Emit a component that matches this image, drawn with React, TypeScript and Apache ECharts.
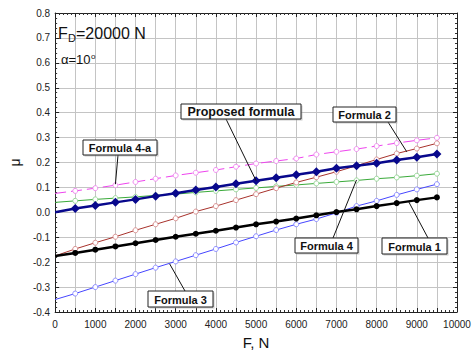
import React, { useEffect, useRef } from "react";
import * as echarts from "echarts";

const forceN = [0, 500, 1000, 1500, 2000, 2500, 3000, 3500, 4000, 4500, 5000, 5500, 6000, 6500, 7000, 7500, 8000, 8500, 9000, 9500];
const formula1 = [-0.175, -0.163, -0.150, -0.137, -0.124, -0.111, -0.098, -0.086, -0.074, -0.061, -0.048, -0.037, -0.025, -0.012, 0.001, 0.012, 0.025, 0.037, 0.049, 0.060];
const formula2 = [-0.175, -0.147, -0.122, -0.098, -0.072, -0.048, -0.024, 0.003, 0.025, 0.049, 0.073, 0.097, 0.120, 0.141, 0.163, 0.187, 0.212, 0.236, 0.256, 0.277];
const formula3 = [-0.350, -0.326, -0.300, -0.274, -0.248, -0.222, -0.197, -0.172, -0.147, -0.121, -0.096, -0.071, -0.048, -0.027, -0.002, 0.025, 0.046, 0.070, 0.092, 0.113];
const formula4 = [0.040, 0.046, 0.052, 0.057, 0.062, 0.068, 0.073, 0.080, 0.086, 0.092, 0.098, 0.104, 0.110, 0.116, 0.122, 0.128, 0.135, 0.140, 0.147, 0.155];
const formula4a = [0.076, 0.086, 0.097, 0.109, 0.122, 0.135, 0.148, 0.159, 0.170, 0.183, 0.196, 0.206, 0.216, 0.232, 0.243, 0.254, 0.266, 0.278, 0.289, 0.299];
const proposed = [0.000, 0.015, 0.027, 0.040, 0.052, 0.065, 0.077, 0.090, 0.102, 0.115, 0.127, 0.139, 0.151, 0.163, 0.177, 0.187, 0.197, 0.210, 0.221, 0.234];

// annotation labels: text, box [x, y, w, h] in px, leader start [x, y] in px, target [F, mu] in data
const annotations = [
  { text: "Formula 4-a", box: [83, 140, 74, 15], start: [118, 155], target: [1500, 0.113], size: 11 },
  { text: "Proposed formula", box: [181, 104, 120, 15], start: [226, 119], target: [5000, 0.127], size: 12.5 },
  { text: "Formula 2", box: [333, 107, 63, 15], start: [388, 122], target: [8750, 0.243], size: 11 },
  { text: "Formula 4", box: [295, 238, 63, 15], start: [333, 238], target: [7500, 0.13], size: 11 },
  { text: "Formula 1", box: [382, 238, 65, 16], start: [428, 238], target: [8800, 0.042], size: 11 },
  { text: "Formula 3", box: [148, 291, 65, 16], start: [185, 291], target: [2850, -0.207], size: 11 },
];

const FONT = "Liberation Sans, Arial, Helvetica, sans-serif";

function pairs(ys: number[]) {
  return forceN.map((x, i) => [x, ys[i]]);
}

const symFn = (name: string) => (v: number[]) => (v[0] === 0 ? "none" : name);

function openSeries(name: string, data: number[], line: string, marker: string, dashed = false) {
  return {
    name,
    type: "line",
    data: pairs(data),
    symbol: symFn("circle"),
    symbolSize: 5,
    lineStyle: { color: line, width: 1, type: dashed ? [11, 5] : "solid" },
    itemStyle: { color: "#ffffff", borderColor: marker, borderWidth: 1 },
    z: 3,
  };
}

export default function App() {
  const ref = useRef<HTMLDivElement>(null);
  useEffect(() => {
    if (!ref.current) return;
    const chart = echarts.init(ref.current, undefined, { renderer: "svg" });
    const axisCommon = {
      axisLine: { show: true, onZero: false, lineStyle: { color: "#222", width: 1 } },
      axisTick: { show: true, inside: true, length: 4, lineStyle: { color: "#222" } },
      minorTick: { show: true, splitNumber: 5, length: 2, lineStyle: { color: "#333" } },
    };
    const option: any = {
      animation: false,
      backgroundColor: "#ffffff",
      grid: { left: 53, right: 17, top: 13, bottom: 43, show: false },
      xAxis: [
        {
          type: "value",
          min: 0,
          max: 10000,
          interval: 500,
          ...axisCommon,
          axisLabel: {
            color: "#222",
            fontSize: 10,
            fontFamily: FONT,
            margin: 7,
            formatter: (v: number) => (v % 1000 === 0 ? String(v) : ""),
          },
          splitLine: { show: true, lineStyle: { color: "#c4c4c4", width: 1 } },
          name: "F, N",
          nameLocation: "middle",
          nameGap: 23,
          nameTextStyle: { fontSize: 15, color: "#111", fontFamily: FONT },
        },
        {
          type: "value",
          position: "top",
          min: 0,
          max: 10000,
          interval: 500,
          ...axisCommon,
          axisLabel: { show: false },
          splitLine: { show: false },
        },
      ],
      yAxis: [
        {
          type: "value",
          min: -0.4,
          max: 0.8,
          interval: 0.1,
          ...axisCommon,
          axisLabel: {
            color: "#222",
            fontSize: 10,
            fontFamily: FONT,
            margin: 5,
            formatter: (v: number) => v.toFixed(1),
          },
          splitLine: { show: true, lineStyle: { color: "#c4c4c4", width: 1 } },
          name: "μ",
          nameLocation: "middle",
          nameGap: 27,
          nameTextStyle: { fontSize: 14, color: "#111", fontFamily: FONT },
        },
        {
          type: "value",
          position: "right",
          min: -0.4,
          max: 0.8,
          interval: 0.1,
          ...axisCommon,
          axisLabel: { show: false },
          splitLine: { show: false },
        },
      ],
      series: [
        openSeries("Formula 4-a", formula4a, "#ee44ee", "#f08cf0", true),
        openSeries("Formula 4", formula4, "#3aaa3a", "#98d898"),
        openSeries("Formula 2", formula2, "#a8322c", "#d89090"),
        openSeries("Formula 3", formula3, "#4646ff", "#8c8cff"),
        {
          name: "Formula 1",
          type: "line",
          data: pairs(formula1),
          symbol: symFn("circle"),
          symbolSize: 6,
          lineStyle: { color: "#000000", width: 2.5 },
          itemStyle: { color: "#000000" },
          z: 4,
        },
        {
          name: "Proposed formula",
          type: "line",
          data: pairs(proposed),
          symbol: symFn("diamond"),
          symbolSize: 9,
          lineStyle: { color: "#08088c", width: 2.5 },
          itemStyle: { color: "#08088c" },
          z: 4,
        },
      ],
    };
    chart.setOption(option);

    const graphics: any[] = [];
    // header texts
    graphics.push(
      { type: "text", left: 58, top: 25, style: { text: "F", font: `16px ${FONT}`, fill: "#111" }, z: 10 },
      { type: "text", left: 68, top: 32, style: { text: "D", font: `11px ${FONT}`, fill: "#111" }, z: 10 },
      { type: "text", left: 76, top: 25, style: { text: "=20000 N", font: `16px ${FONT}`, fill: "#111" }, z: 10 },
      { type: "text", left: 61, top: 53, style: { text: "α=10", font: `13px ${FONT}`, fill: "#111" }, z: 10 },
      { type: "text", left: 91, top: 52, style: { text: "o", font: `8px ${FONT}`, fill: "#111" }, z: 10 }
    );
    annotations.forEach((a) => {
      const end = chart.convertToPixel({ xAxisIndex: 0, yAxisIndex: 0 }, a.target) as number[];
      graphics.push({
        type: "line",
        shape: { x1: a.start[0], y1: a.start[1], x2: end[0], y2: end[1] },
        style: { stroke: "#111", lineWidth: 1 },
        z: 10,
      });
      graphics.push({
        type: "rect",
        shape: { x: a.box[0] + 1.5, y: a.box[1] + 1.5, width: a.box[2], height: a.box[3] },
        style: { fill: "#9a9a9a", opacity: 0.5 },
        z: 10,
      });
      graphics.push({
        type: "rect",
        shape: { x: a.box[0], y: a.box[1], width: a.box[2], height: a.box[3] },
        style: { fill: "#ffffff", stroke: "#222", lineWidth: 1 },
        z: 11,
      });
      graphics.push({
        type: "text",
        x: a.box[0] + a.box[2] / 2,
        y: a.box[1] + a.box[3] / 2 + 0.5,
        style: {
          text: a.text,
          font: `bold ${a.size}px ${FONT}`,
          fill: "#111",
          textAlign: "center",
          textVerticalAlign: "middle",
        },
        z: 12,
      });
    });
    chart.setOption({ graphic: graphics });

    return () => chart.dispose();
  }, []);
  return (
    <div
      ref={ref}
      style={{ position: "fixed", left: 0, top: 0, width: 474, height: 355, background: "#fff" }}
    />
  );
}
